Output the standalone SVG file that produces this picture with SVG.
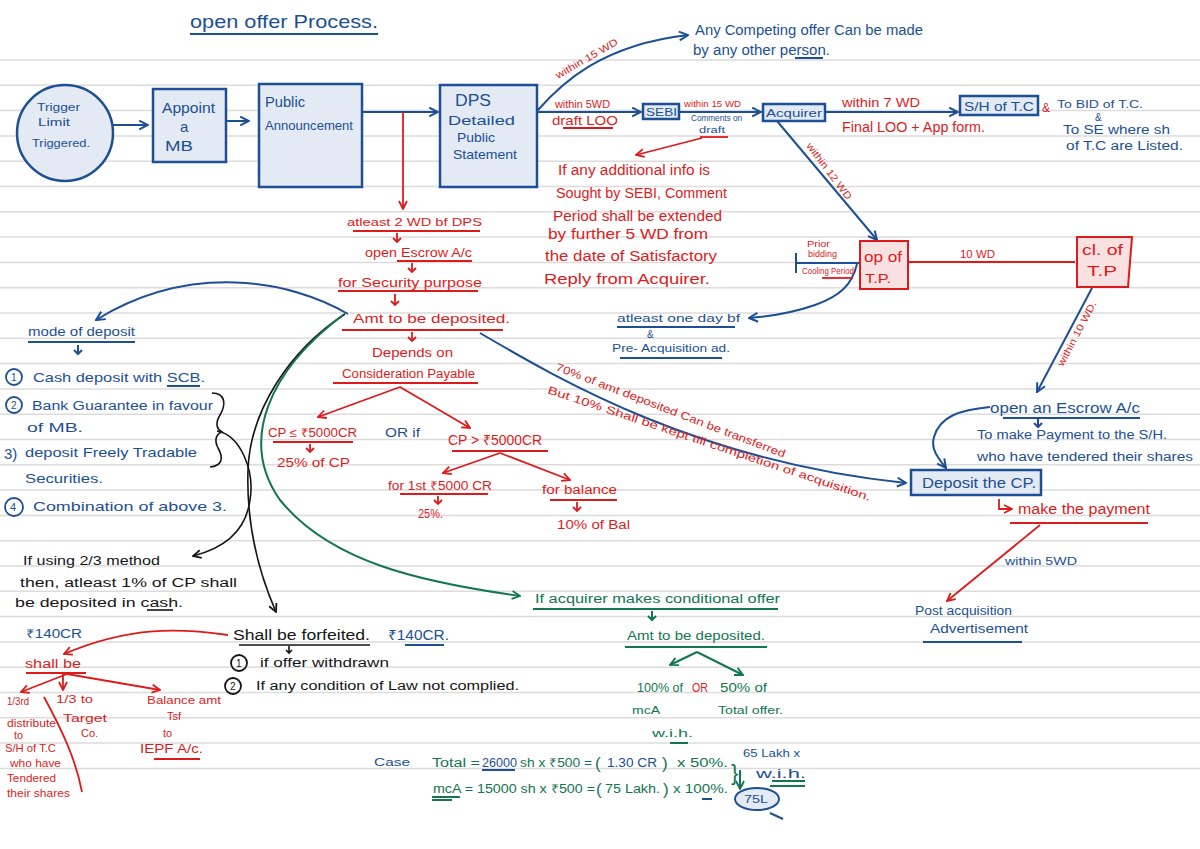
<svg xmlns="http://www.w3.org/2000/svg" width="1200" height="849" viewBox="0 0 1200 849" font-size="12">
<defs>
<style>
text{font-family:"Liberation Sans",Arial,sans-serif}
.b{fill:#1c4f93}.r{fill:#dd1b1b}.g{fill:#137552}.k{fill:#151515}
.sb{stroke:#1c4f93;fill:none;stroke-width:2}
.sr{stroke:#dd1b1b;fill:none;stroke-width:1.8}
.sg{stroke:#137552;fill:none;stroke-width:2}
.sk{stroke:#151515;fill:none;stroke-width:1.6}
.box{fill:#e3eaf3;stroke:#1c4f93;stroke-width:2.5}
.rbox{fill:#f9e1e1;stroke:#dd1b1b;stroke-width:2}
.rule{stroke:#dcdcdc;stroke-width:1.5}
</style>
<marker id="ab" viewBox="0 0 10 10" refX="9" refY="5" markerWidth="11" markerHeight="11" markerUnits="userSpaceOnUse" orient="auto"><path d="M1,1 L9,5 L1,9" fill="none" stroke="#1c4f93" stroke-width="1.8"/></marker>
<marker id="ar" viewBox="0 0 10 10" refX="9" refY="5" markerWidth="10" markerHeight="10" markerUnits="userSpaceOnUse" orient="auto"><path d="M1,1 L9,5 L1,9" fill="none" stroke="#dd1b1b" stroke-width="1.8"/></marker>
<marker id="ag" viewBox="0 0 10 10" refX="9" refY="5" markerWidth="10" markerHeight="10" markerUnits="userSpaceOnUse" orient="auto"><path d="M1,1 L9,5 L1,9" fill="none" stroke="#137552" stroke-width="1.8"/></marker>
<marker id="ak" viewBox="0 0 10 10" refX="9" refY="5" markerWidth="10" markerHeight="10" markerUnits="userSpaceOnUse" orient="auto"><path d="M1,1 L9,5 L1,9" fill="none" stroke="#151515" stroke-width="1.8"/></marker>
</defs>
<rect width="1200" height="849" fill="#ffffff"/>
<g id="ruled-lines">
<path class="rule" d="M0,60H1200M0,85.3H1200M0,110.6H1200M0,135.9H1200M0,161.2H1200M0,186.5H1200M0,211.8H1200M0,237.1H1200M0,262.4H1200M0,287.7H1200M0,313H1200M0,338.3H1200M0,363.6H1200M0,388.9H1200M0,414.2H1200M0,439.5H1200M0,464.8H1200M0,490.1H1200M0,515.4H1200M0,540.7H1200M0,566H1200M0,591.3H1200M0,616.6H1200M0,641.9H1200M0,667.2H1200M0,692.5H1200M0,717.8H1200M0,743.1H1200M0,768.4H1200"/>
</g>

<g id="title">
<text x="190" y="28" class="b" font-size="19" textLength="188" lengthAdjust="spacingAndGlyphs">open offer Process.</text>
<line x1="190" y1="34" x2="378" y2="34" class="sb"/>
</g>

<g id="connectors">
<line x1="113" y1="125" x2="148" y2="125" class="sb" marker-end="url(#ab)"/>
<line x1="226" y1="121" x2="249" y2="121" class="sb" marker-end="url(#ab)"/>
<line x1="362" y1="112" x2="438" y2="112" class="sb" marker-end="url(#ab)"/>
<path d="M538,110 C560,85 600,45 688,35" class="sb" marker-end="url(#ab)"/>
<line x1="537" y1="112" x2="641" y2="112" class="sb" marker-end="url(#ab)"/>
<line x1="679" y1="112" x2="761" y2="112" class="sb" marker-end="url(#ab)"/>
<line x1="825" y1="112" x2="958" y2="112" class="sb" marker-end="url(#ab)"/>
<line x1="777" y1="121" x2="877" y2="240" class="sb" marker-end="url(#ab)"/>
<line x1="908" y1="262" x2="1075" y2="262" class="sr"/>
<line x1="796" y1="263" x2="860" y2="263" class="sb"/>
<line x1="796" y1="253" x2="796" y2="273" class="sb"/>
<path d="M857,264 C852,285 840,296 815,305 C795,312 775,316 749,318" class="sb" marker-end="url(#ab)"/>
<line x1="1092" y1="288" x2="1037" y2="392" class="sb" marker-end="url(#ab)"/>
<path d="M990,407 C960,410 940,416 934,437 C930,450 940,460 946,468" class="sb" marker-end="url(#ab)"/>
<path d="M480,333 C560,380 700,462 906,483" class="sb" marker-end="url(#ab)"/>
<line x1="1040" y1="525" x2="947" y2="601" class="sr" marker-end="url(#ar)"/>
<path d="M999,499 L999,509 L1012,509" class="sr" marker-end="url(#ar)"/>
<line x1="702" y1="138" x2="636" y2="155" class="sr" marker-end="url(#ar)"/>
<line x1="403" y1="112" x2="403" y2="209" class="sr" marker-end="url(#ar)"/>
<line x1="400" y1="387" x2="318" y2="417" class="sr" marker-end="url(#ar)"/>
<line x1="400" y1="387" x2="470" y2="428" class="sr" marker-end="url(#ar)"/>
<line x1="500" y1="453" x2="443" y2="473" class="sr" marker-end="url(#ar)"/>
<line x1="500" y1="453" x2="570" y2="480" class="sr" marker-end="url(#ar)"/>
<path d="M348,314 C290,280 190,262 96,320" class="sb" marker-end="url(#ab)"/>
<path d="M217,431 C240,435 255,470 250,500 C246,530 225,548 193,556" class="sk" marker-end="url(#ak)"/>
<path d="M345,314 C290,350 250,410 248,470 C246,530 262,580 276,612" class="sk" marker-end="url(#ak)"/>
<path d="M343,315 C270,370 238,440 280,500 C330,562 420,582 520,596" class="sg" marker-end="url(#ag)"/>
<path d="M228,635 C180,628 130,626 64,654" class="sr" marker-end="url(#ar)"/>
<line x1="67" y1="674" x2="21" y2="692" class="sr" marker-end="url(#ar)"/>
<line x1="63" y1="674" x2="63" y2="690" class="sr" marker-end="url(#ar)"/>
<line x1="67" y1="674" x2="160" y2="690" class="sr" marker-end="url(#ar)"/>
<path d="M44,697 C62,730 76,760 82,792" class="sr"/>
<line x1="697" y1="652" x2="670" y2="665" class="sg" marker-end="url(#ag)"/>
<line x1="697" y1="652" x2="743" y2="675" class="sg" marker-end="url(#ag)"/>
<line x1="740" y1="770" x2="740" y2="789" class="sg" marker-end="url(#ag)"/>
<path d="M770,813 L783,819" class="sb"/>
</g>

<g id="n-trigger">
<circle cx="65" cy="133" r="48" fill="#e3eaf3" stroke="#1c4f93" stroke-width="2.5"/>
<text x="37" y="111" class="b" font-size="11" textLength="43" lengthAdjust="spacingAndGlyphs">Trigger</text>
<text x="38" y="126" class="b" font-size="11" textLength="32" lengthAdjust="spacingAndGlyphs">Limit</text>
<text x="32" y="147" class="b" font-size="11" textLength="58" lengthAdjust="spacingAndGlyphs">Triggered.</text>
</g>
<g id="n-appoint">
<rect x="153" y="89" width="73" height="73" class="box"/>
<text x="162" y="113" class="b" font-size="15" textLength="53" lengthAdjust="spacingAndGlyphs">Appoint</text>
<text x="180" y="132" class="b" font-size="15">a</text>
<text x="165" y="151" class="b" font-size="15" textLength="28" lengthAdjust="spacingAndGlyphs">MB</text>
</g>
<g id="n-public">
<rect x="259" y="84" width="103" height="103" class="box"/>
<text x="265" y="107" class="b" font-size="14" textLength="40" lengthAdjust="spacingAndGlyphs">Public</text>
<text x="265" y="130" class="b" font-size="12" textLength="88" lengthAdjust="spacingAndGlyphs">Announcement</text>
</g>
<g id="n-dps">
<rect x="440" y="85" width="97" height="102" class="box"/>
<text x="455" y="106" class="b" font-size="16" textLength="36" lengthAdjust="spacingAndGlyphs">DPS</text>
<text x="448" y="125" class="b" font-size="13" textLength="67" lengthAdjust="spacingAndGlyphs">Detailed</text>
<text x="457" y="142" class="b" font-size="13" textLength="38" lengthAdjust="spacingAndGlyphs">Public</text>
<text x="453" y="159" class="b" font-size="13" textLength="64" lengthAdjust="spacingAndGlyphs">Statement</text>
</g>
<g id="n-dps-labels">
<g transform="translate(558,79) rotate(-30)"><text class="r" font-size="10" textLength="70" lengthAdjust="spacingAndGlyphs">within 15 WD</text></g>
<text x="695" y="35" class="b" font-size="14" textLength="228" lengthAdjust="spacingAndGlyphs">Any Competing offer Can be made</text>
<text x="693" y="55" class="b" font-size="14" textLength="137" lengthAdjust="spacingAndGlyphs">by any other person.</text>
<line x1="795" y1="58" x2="823" y2="58" class="sb"/>
<text x="555" y="108" class="r" font-size="10" textLength="55" lengthAdjust="spacingAndGlyphs">within 5WD</text>
<text x="552" y="125" class="r" font-size="13" textLength="66" lengthAdjust="spacingAndGlyphs">draft LOO</text>
<line x1="563" y1="128" x2="613" y2="128" class="sr"/>
</g>
<g id="n-sebi">
<rect x="643" y="104" width="36" height="15" class="box" stroke-width="2"/>
<text x="646" y="116" class="b" font-size="11" textLength="31" lengthAdjust="spacingAndGlyphs">SEBI</text>
<text x="684" y="107" class="r" font-size="9" textLength="57" lengthAdjust="spacingAndGlyphs">within 15 WD</text>
<text x="691" y="121" class="b" font-size="9" textLength="51" lengthAdjust="spacingAndGlyphs">Comments on</text>
<text x="699" y="133" class="b" font-size="9" textLength="26" lengthAdjust="spacingAndGlyphs">draft</text>
<line x1="700" y1="137" x2="728" y2="137" class="sr"/>
</g>
<g id="n-sebi-note">
<text x="558" y="175" class="r" font-size="14" textLength="152" lengthAdjust="spacingAndGlyphs">If any additional info is</text>
<text x="556" y="198" class="r" font-size="14" textLength="171" lengthAdjust="spacingAndGlyphs">Sought by SEBI, Comment</text>
<text x="553" y="221" class="r" font-size="14" textLength="169" lengthAdjust="spacingAndGlyphs">Period shall be extended</text>
<text x="548" y="239" class="r" font-size="14" textLength="160" lengthAdjust="spacingAndGlyphs">by further 5 WD from</text>
<text x="545" y="261" class="r" font-size="14" textLength="172" lengthAdjust="spacingAndGlyphs">the date of Satisfactory</text>
<text x="544" y="284" class="r" font-size="14" textLength="166" lengthAdjust="spacingAndGlyphs">Reply from Acquirer.</text>
</g>
<g id="n-acquirer">
<rect x="763" y="104" width="62" height="17" class="box" stroke-width="2"/>
<text x="766" y="117" class="b" font-size="11" textLength="56" lengthAdjust="spacingAndGlyphs">Acquirer</text>
<text x="842" y="107" class="r" font-size="12" textLength="78" lengthAdjust="spacingAndGlyphs">within 7 WD</text>
<text x="842" y="132" class="r" font-size="14" textLength="143" lengthAdjust="spacingAndGlyphs">Final LOO + App form.</text>
<g transform="translate(806,146) rotate(53)"><text class="r" font-size="10" textLength="68" lengthAdjust="spacingAndGlyphs">within 12 WD</text></g>
</g>
<g id="n-sh">
<rect x="960" y="96" width="78" height="19" class="box" stroke-width="2"/>
<text x="964" y="111" class="b" font-size="12" textLength="70" lengthAdjust="spacingAndGlyphs">S/H of T.C</text>
<text x="1042" y="112" class="r" font-size="12">&amp;</text>
<text x="1057" y="108" class="b" font-size="11" textLength="86" lengthAdjust="spacingAndGlyphs">To BID of T.C.</text>
<text x="1095" y="121" class="b" font-size="10">&amp;</text>
<text x="1063" y="134" class="b" font-size="12" textLength="107" lengthAdjust="spacingAndGlyphs">To SE where sh</text>
<text x="1066" y="150" class="b" font-size="12" textLength="117" lengthAdjust="spacingAndGlyphs">of T.C are Listed.</text>
</g>
<g id="n-op">
<rect x="860" y="241" width="48" height="48" class="rbox"/>
<text x="864" y="262" class="r" font-size="14" textLength="38" lengthAdjust="spacingAndGlyphs">op of</text>
<text x="865" y="283" class="r" font-size="12" textLength="26" lengthAdjust="spacingAndGlyphs">T.P.</text>
<text x="807" y="247" class="r" font-size="9" textLength="23" lengthAdjust="spacingAndGlyphs">Prior</text>
<text x="808" y="257" class="r" font-size="9" textLength="29" lengthAdjust="spacingAndGlyphs">bidding</text>
<text x="802" y="274" class="r" font-size="9" textLength="52" lengthAdjust="spacingAndGlyphs">Cooling Period</text>
<line x1="822" y1="278" x2="853" y2="278" class="sr" stroke-width="1.2"/>
<text x="617" y="322" class="b" font-size="11" textLength="123" lengthAdjust="spacingAndGlyphs">atleast one day bf</text>
<line x1="617" y1="327" x2="735" y2="327" class="sb" stroke-width="1.6"/>
<text x="647" y="338" class="b" font-size="10">&amp;</text>
<text x="612" y="352" class="b" font-size="11" textLength="118" lengthAdjust="spacingAndGlyphs">Pre- Acquisition ad.</text>
<line x1="620" y1="358" x2="722" y2="358" class="sb" stroke-width="1.6"/>
</g>
<g id="n-cl">
<path d="M1077,237 L1132,237 L1128,287 L1077,287 Z" class="rbox"/>
<text x="1082" y="255" class="r" font-size="14" textLength="41" lengthAdjust="spacingAndGlyphs">cl. of</text>
<text x="1087" y="276" class="r" font-size="14" textLength="30" lengthAdjust="spacingAndGlyphs">T.P</text>
<text x="960" y="258" class="r" font-size="11" textLength="35" lengthAdjust="spacingAndGlyphs">10 WD</text>
<g transform="translate(1063,367) rotate(-62)"><text class="r" font-size="10" textLength="72" lengthAdjust="spacingAndGlyphs">within 10 WD.</text></g>
</g>
<g id="n-escrow2">
<text x="990" y="413" class="b" font-size="14" textLength="150" lengthAdjust="spacingAndGlyphs">open an Escrow A/c</text>
<line x1="1003" y1="418" x2="1140" y2="418" class="sb" stroke-width="1.6"/>
<path d="M1038,419 L1038,426 M1034,423 L1038,427 L1042,423" class="sb" stroke-width="1.4"/>
<text x="977" y="439" class="b" font-size="12" textLength="190" lengthAdjust="spacingAndGlyphs">To make Payment to the S/H.</text>
<text x="977" y="461" class="b" font-size="12" textLength="216" lengthAdjust="spacingAndGlyphs">who have tendered their shares</text>
</g>
<g id="n-deposit">
<rect x="911" y="470" width="130" height="25" class="box" stroke-width="2"/>
<text x="922" y="488" class="b" font-size="14" textLength="114" lengthAdjust="spacingAndGlyphs">Deposit the CP.</text>
<text x="1018" y="514" class="r" font-size="14" textLength="132" lengthAdjust="spacingAndGlyphs">make the payment</text>
<line x1="1010" y1="523" x2="1148" y2="523" class="sr"/>
<text x="1005" y="565" class="b" font-size="11" textLength="72" lengthAdjust="spacingAndGlyphs">within 5WD</text>
<text x="915" y="615" class="b" font-size="12" textLength="97" lengthAdjust="spacingAndGlyphs">Post acquisition</text>
<text x="930" y="633" class="b" font-size="12" textLength="98" lengthAdjust="spacingAndGlyphs">Advertisement</text>
<line x1="923" y1="642" x2="1022" y2="642" class="sb" stroke-width="1.6"/>
</g>
<g id="n-escrow">
<text x="347" y="226" class="r" font-size="11" textLength="135" lengthAdjust="spacingAndGlyphs">atleast 2 WD bf DPS</text>
<line x1="353" y1="231" x2="480" y2="231" class="sr"/>
<path d="M397,233 L397,242 M393,238 L397,242 L401,238" class="sr" stroke-width="1.4"/>
<text x="365" y="257" class="r" font-size="12" textLength="107" lengthAdjust="spacingAndGlyphs">open Escrow A/c</text>
<line x1="397" y1="261" x2="472" y2="261" class="sr"/>
<path d="M412,263 L412,272 M408,268 L412,272 L416,268" class="sr" stroke-width="1.4"/>
<text x="338" y="287" class="r" font-size="12" textLength="144" lengthAdjust="spacingAndGlyphs">for Security purpose</text>
<line x1="338" y1="291" x2="478" y2="291" class="sr"/>
<path d="M395,294 L395,305 M391,301 L395,305 L399,301" class="sr" stroke-width="1.4"/>
<text x="353" y="323" class="r" font-size="13" textLength="157" lengthAdjust="spacingAndGlyphs">Amt to be deposited.</text>
<line x1="342" y1="330" x2="503" y2="330" class="sr"/>
<path d="M412,332 L412,341 M408,337 L412,341 L416,337" class="sr" stroke-width="1.4"/>
<text x="372" y="357" class="r" font-size="12" textLength="81" lengthAdjust="spacingAndGlyphs">Depends on</text>
<text x="342" y="378" class="r" font-size="12" textLength="133" lengthAdjust="spacingAndGlyphs">Consideration Payable</text>
<line x1="333" y1="383" x2="478" y2="383" class="sr"/>
<text x="268" y="437" class="r" font-size="12" textLength="89" lengthAdjust="spacingAndGlyphs">CP ≤ ₹5000CR</text>
<line x1="273" y1="442" x2="353" y2="442" class="sr"/>
<path d="M310,444 L310,452 M306,448 L310,452 L314,448" class="sr" stroke-width="1.4"/>
<text x="277" y="467" class="r" font-size="12" textLength="73" lengthAdjust="spacingAndGlyphs">25% of CP</text>
<text x="385" y="437" class="b" font-size="13" textLength="35" lengthAdjust="spacingAndGlyphs">OR if</text>
<text x="448" y="445" class="r" font-size="14" textLength="94" lengthAdjust="spacingAndGlyphs">CP &gt; ₹5000CR</text>
<line x1="452" y1="451" x2="548" y2="451" class="sr"/>
<text x="388" y="490" class="r" font-size="12" textLength="104" lengthAdjust="spacingAndGlyphs">for 1st ₹5000 CR</text>
<line x1="400" y1="494" x2="488" y2="494" class="sr"/>
<path d="M438,496 L438,504 M434,500 L438,504 L442,500" class="sr" stroke-width="1.4"/>
<text x="418" y="518" class="r" font-size="12" textLength="25" lengthAdjust="spacingAndGlyphs">25%.</text>
<text x="542" y="494" class="r" font-size="12" textLength="75" lengthAdjust="spacingAndGlyphs">for balance</text>
<line x1="550" y1="500" x2="617" y2="500" class="sr"/>
<path d="M577,502 L577,511 M573,507 L577,511 L581,507" class="sr" stroke-width="1.4"/>
<text x="557" y="529" class="r" font-size="12" textLength="73" lengthAdjust="spacingAndGlyphs">10% of Bal</text>
<g transform="translate(555,370) rotate(21)"><text class="r" font-size="11" textLength="245" lengthAdjust="spacingAndGlyphs">70% of amt deposited Can be transferred</text></g>
<g transform="translate(547,393) rotate(18.5)"><text class="r" font-size="11" textLength="340" lengthAdjust="spacingAndGlyphs">But 10% Shall be kept till completion of acquisition.</text></g>
</g>
<g id="n-mode">
<text x="28" y="336" class="b" font-size="12" textLength="107" lengthAdjust="spacingAndGlyphs">mode of deposit</text>
<line x1="28" y1="342" x2="135" y2="342" class="sb" stroke-width="1.6"/>
<path d="M78,345 L78,354 M74,350 L78,354 L82,350" class="sb" stroke-width="1.4"/>
<circle cx="14" cy="377" r="8" fill="none" stroke="#1c4f93" stroke-width="1.8"/>
<text x="11" y="381" class="b" font-size="10">1</text>
<text x="33" y="382" class="b" font-size="13" textLength="172" lengthAdjust="spacingAndGlyphs">Cash deposit with SCB.</text>
<line x1="167" y1="386" x2="200" y2="386" class="sb" stroke-width="1.6"/>
<circle cx="14" cy="405" r="8" fill="none" stroke="#1c4f93" stroke-width="1.8"/>
<text x="11" y="409" class="b" font-size="10">2</text>
<text x="32" y="410" class="b" font-size="12" textLength="181" lengthAdjust="spacingAndGlyphs">Bank Guarantee in favour</text>
<text x="27" y="432" class="b" font-size="12" textLength="56" lengthAdjust="spacingAndGlyphs">of MB.</text>
<text x="4" y="459" class="b" font-size="15">3)</text>
<text x="25" y="457" class="b" font-size="13" textLength="172" lengthAdjust="spacingAndGlyphs">deposit Freely Tradable</text>
<text x="25" y="483" class="b" font-size="13" textLength="78" lengthAdjust="spacingAndGlyphs">Securities.</text>
<circle cx="14" cy="507" r="9" fill="none" stroke="#1c4f93" stroke-width="1.8"/>
<text x="10" y="511" class="b" font-size="11">4</text>
<text x="33" y="511" class="b" font-size="13" textLength="194" lengthAdjust="spacingAndGlyphs">Combination of above 3.</text>
<path d="M212,393 C226,393 226,405 220,415 C214,425 218,430 222,432 C216,434 214,440 218,448 C224,458 222,466 210,467" class="sk" stroke-width="1.4"/>
</g>
<g id="n-cash-note">
<text x="23" y="565" class="k" font-size="12" textLength="137" lengthAdjust="spacingAndGlyphs">If using 2/3 method</text>
<text x="20" y="587" class="k" font-size="12" textLength="217" lengthAdjust="spacingAndGlyphs">then, atleast 1% of CP shall</text>
<text x="15" y="607" class="k" font-size="12" textLength="168" lengthAdjust="spacingAndGlyphs">be deposited in cash.</text>
<line x1="147" y1="610" x2="173" y2="610" class="sk"/>
</g>
<g id="n-forfeit">
<text x="26" y="638" class="b" font-size="12" textLength="56" lengthAdjust="spacingAndGlyphs">₹140CR</text>
<text x="233" y="640" class="k" font-size="14" textLength="137" lengthAdjust="spacingAndGlyphs">Shall be forfeited.</text>
<line x1="239" y1="645" x2="370" y2="645" class="sk"/>
<text x="388" y="640" class="b" font-size="14" textLength="61" lengthAdjust="spacingAndGlyphs">₹140CR.</text>
<line x1="405" y1="645" x2="444" y2="645" class="sb"/>
<path d="M289,646 L289,653 M286,650 L289,653 L292,650" class="sk" stroke-width="1.2"/>
<circle cx="239" cy="663" r="8" fill="none" stroke="#151515" stroke-width="1.8"/>
<text x="236" y="667" class="k" font-size="10">1</text>
<text x="260" y="667" class="k" font-size="12" textLength="129" lengthAdjust="spacingAndGlyphs">if offer withdrawn</text>
<circle cx="233" cy="686" r="8" fill="none" stroke="#151515" stroke-width="1.8"/>
<text x="230" y="690" class="k" font-size="10">2</text>
<text x="256" y="690" class="k" font-size="12" textLength="263" lengthAdjust="spacingAndGlyphs">If any condition of Law not complied.</text>
<text x="25" y="668" class="r" font-size="12" textLength="56" lengthAdjust="spacingAndGlyphs">shall be</text>
<line x1="26" y1="673" x2="86" y2="673" class="sr"/>
<text x="7" y="705" class="r" font-size="11" textLength="22" lengthAdjust="spacingAndGlyphs">1/3rd</text>
<text x="7" y="727" class="r" font-size="11" textLength="49" lengthAdjust="spacingAndGlyphs">distribute</text>
<text x="14" y="739" class="r" font-size="11">to</text>
<text x="5" y="752" class="r" font-size="11" textLength="51" lengthAdjust="spacingAndGlyphs">S/H of T.C</text>
<text x="10" y="767" class="r" font-size="11" textLength="51" lengthAdjust="spacingAndGlyphs">who have</text>
<text x="7" y="782" class="r" font-size="11" textLength="49" lengthAdjust="spacingAndGlyphs">Tendered</text>
<text x="7" y="797" class="r" font-size="11" textLength="63" lengthAdjust="spacingAndGlyphs">their shares</text>
<text x="56" y="703" class="r" font-size="11" textLength="37" lengthAdjust="spacingAndGlyphs">1/3 to</text>
<text x="63" y="722" class="r" font-size="11" textLength="44" lengthAdjust="spacingAndGlyphs">Target</text>
<text x="81" y="737" class="r" font-size="11">Co.</text>
<text x="147" y="704" class="r" font-size="11" textLength="74" lengthAdjust="spacingAndGlyphs">Balance amt</text>
<text x="167" y="720" class="r" font-size="11">Tsf</text>
<text x="163" y="737" class="r" font-size="11">to</text>
<text x="140" y="753" class="r" font-size="12" textLength="63" lengthAdjust="spacingAndGlyphs">IEPF A/c.</text>
<line x1="154" y1="759" x2="200" y2="759" class="sr"/>
</g>
<g id="n-conditional">
<text x="535" y="603" class="g" font-size="12" textLength="245" lengthAdjust="spacingAndGlyphs">If acquirer makes conditional offer</text>
<line x1="533" y1="609" x2="778" y2="609" class="sg" stroke-width="1.6"/>
<path d="M652,611 L652,620 M648,616 L652,620 L656,616" class="sg" stroke-width="1.4"/>
<text x="627" y="640" class="g" font-size="12" textLength="138" lengthAdjust="spacingAndGlyphs">Amt to be deposited.</text>
<line x1="625" y1="647" x2="767" y2="647" class="sg" stroke-width="1.6"/>
<text x="637" y="692" class="g" font-size="12" textLength="46" lengthAdjust="spacingAndGlyphs">100% of</text>
<text x="692" y="692" class="r" font-size="12" textLength="16" lengthAdjust="spacingAndGlyphs">OR</text>
<text x="720" y="692" class="g" font-size="12" textLength="47" lengthAdjust="spacingAndGlyphs">50% of</text>
<text x="632" y="714" class="g" font-size="11" textLength="28" lengthAdjust="spacingAndGlyphs">mcA</text>
<text x="718" y="714" class="g" font-size="11" textLength="65" lengthAdjust="spacingAndGlyphs">Total offer.</text>
<text x="652" y="737" class="g" font-size="11" textLength="41" lengthAdjust="spacingAndGlyphs">w.i.h.</text>
<line x1="670" y1="743" x2="688" y2="743" class="sg" stroke-width="1.5"/>
</g>
<g id="n-example">
<text x="374" y="766" class="b" font-size="11" textLength="36" lengthAdjust="spacingAndGlyphs">Case</text>
<text x="432" y="767" class="g" font-size="12" textLength="48" lengthAdjust="spacingAndGlyphs">Total =</text>
<text x="482" y="767" class="b" font-size="12" textLength="35" lengthAdjust="spacingAndGlyphs">26000</text>
<line x1="482" y1="770" x2="515" y2="770" class="sb" stroke-width="1.6"/>
<text x="520" y="767" class="g" font-size="12" textLength="72" lengthAdjust="spacingAndGlyphs">sh x ₹500 =</text>
<text x="595" y="769" class="g" font-size="17">(</text>
<text x="607" y="767" class="b" font-size="12" textLength="50" lengthAdjust="spacingAndGlyphs">1.30 CR</text>
<text x="662" y="769" class="g" font-size="17">)</text>
<text x="677" y="767" class="g" font-size="12" textLength="51" lengthAdjust="spacingAndGlyphs">x 50%.</text>
<text x="433" y="793" class="g" font-size="12" textLength="162" lengthAdjust="spacingAndGlyphs">mcA = 15000 sh x ₹500 =</text>
<line x1="432" y1="797" x2="460" y2="797" class="sg" stroke-width="1.4"/>
<line x1="432" y1="800" x2="452" y2="800" class="sg" stroke-width="1.4"/>
<text x="596" y="795" class="g" font-size="17">(</text>
<text x="605" y="793" class="g" font-size="12" textLength="55" lengthAdjust="spacingAndGlyphs">75 Lakh.</text>
<text x="663" y="795" class="g" font-size="17">)</text>
<text x="673" y="793" class="g" font-size="12" textLength="55" lengthAdjust="spacingAndGlyphs">x 100%.</text>
<line x1="702" y1="799" x2="712" y2="799" class="sb" stroke-width="1.4"/>
<text x="731" y="780" class="g" font-size="22">}</text>
<text x="743" y="757" class="b" font-size="11" textLength="57" lengthAdjust="spacingAndGlyphs">65 Lakh x</text>
<text x="756" y="778" class="b" font-size="12" textLength="50" lengthAdjust="spacingAndGlyphs">w.i.h.</text>
<line x1="772" y1="781" x2="805" y2="781" class="sg" stroke-width="1.5"/>
<line x1="770" y1="786" x2="805" y2="786" class="sg" stroke-width="1.5"/>
<ellipse cx="757" cy="799" rx="22" ry="11" fill="#e3eaf3" stroke="#1c4f93" stroke-width="2"/>
<text x="744" y="803" class="b" font-size="11" textLength="24" lengthAdjust="spacingAndGlyphs">75L</text>
</g>
</svg>
